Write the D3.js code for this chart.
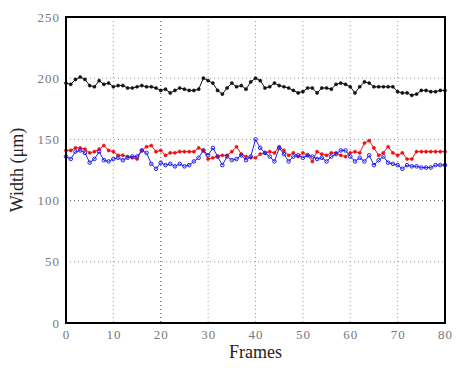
<!DOCTYPE html>
<html>
<head>
<meta charset="utf-8">
<script src="https://cdn.jsdelivr.net/npm/d3@7"></script>
<style>
  body { margin: 0; background: #fff; }
  svg { display: block; }
</style>
</head>
<body>
<svg id="chart" width="474" height="371"></svg>
<script>
// Frames 0..80, width in um
const frames = d3.range(0, 81);

const blackSeries = [196,195,199,201,199,194,193,198,195,196,193,194,194,192,192,193,194,193,193,192,
  190,191,188,190,192,191,190,190,191,200,198,196,190,187,192,196,193,194,191,197,
  200,198,192,193,196,194,193,192,190,188,189,192,192,188,192,192,191,195,196,195,
  193,188,193,197,196,193,193,193,193,193,189,188,188,186,187,190,190,189,189,190,190];

const redSeries = [141,141,143,143,142,139,140,142,145,141,140,137,137,136,135,134,141,144,145,140,
  141,137,139,139,140,140,140,140,143,141,134,135,136,137,137,140,144,138,136,135,
  135,138,139,140,139,144,141,137,139,136,139,137,132,140,138,137,139,139,137,136,
  139,140,139,147,149,143,137,139,144,139,137,139,134,134,140,140,140,140,140,140,140];

const blueSeries = [136,134,140,141,139,131,134,140,133,132,134,135,133,135,136,136,141,139,130,126,
  131,129,130,128,130,128,129,132,135,141,137,143,136,129,136,133,134,137,133,136,
  150,143,139,136,132,143,138,132,136,137,135,137,136,134,135,132,136,138,141,141,
  136,132,135,132,137,129,133,136,131,130,129,126,129,128,128,127,127,127,129,129,129];

const xTicks = [0,10,20,30,40,50,60,70,80];
const yTicks = [0,50,100,150,200,250];

const serif = "Liberation Serif, Times New Roman, serif";

const margin = {top: 17, right: 29, bottom: 48, left: 66};
const svg = d3.select("#chart");
const W = +svg.attr("width"), H = +svg.attr("height");
const w = W - margin.left - margin.right;
const h = H - margin.top - margin.bottom;

const x = d3.scaleLinear().domain([0, 80]).range([0, w]);
const y = d3.scaleLinear().domain([0, 250]).range([h, 0]);

const g = svg.append("g").attr("transform", `translate(${margin.left},${margin.top})`);

// dotted grid
g.append("g").selectAll("line")
  .data(xTicks.slice(1, -1))
  .enter().append("line")
  .attr("x1", d => x(d)).attr("x2", d => x(d))
  .attr("y1", 0).attr("y2", h)
  .attr("stroke", d => d === 20 ? "#444" : "#999")
  .attr("stroke-width", 1)
  .attr("stroke-dasharray", "1,3");

g.append("g").selectAll("line")
  .data(yTicks.slice(1, -1))
  .enter().append("line")
  .attr("x1", 0).attr("x2", w)
  .attr("y1", d => y(d)).attr("y2", d => y(d))
  .attr("stroke", d => d === 100 ? "#555" : "#999")
  .attr("stroke-width", 1)
  .attr("stroke-dasharray", "1,3");

// axes (labels only, frame drawn separately)
const xAxis = g.append("g")
  .attr("transform", `translate(0,${h})`)
  .call(d3.axisBottom(x).tickValues(xTicks).tickSize(0).tickPadding(7));
xAxis.select(".domain").remove();
xAxis.attr("font-family", serif).attr("font-size", 13);
xAxis.selectAll("text").attr("fill", "#777").attr("letter-spacing", 1);

const yAxis = g.append("g")
  .call(d3.axisLeft(y).tickValues(yTicks).tickSize(0).tickPadding(6));
yAxis.select(".domain").remove();
yAxis.attr("font-family", serif).attr("font-size", 13);
yAxis.selectAll("text").attr("fill", "#777").attr("letter-spacing", 1);

// series
const series = [
  {vals: blackSeries, color: "#111", marker: "dot"},
  {vals: redSeries, color: "#f01010", marker: "dot"},
  {vals: blueSeries, color: "#2020f0", marker: "ring"}
];

const line = d3.line()
  .x((d, i) => x(frames[i]))
  .y(d => y(d));

series.forEach(s => {
  g.append("path")
    .datum(s.vals)
    .attr("fill", "none")
    .attr("stroke", s.color)
    .attr("stroke-width", 1)
    .attr("d", line);

  g.append("g").selectAll("circle")
    .data(s.vals)
    .enter().append("circle")
    .attr("cx", (d, i) => x(frames[i]))
    .attr("cy", d => y(d))
    .attr("r", s.marker === "ring" ? 1.8 : 1.6)
    .attr("fill", s.marker === "ring" ? "none" : s.color)
    .attr("stroke", s.color)
    .attr("stroke-width", s.marker === "ring" ? 1 : 0.5);
});

// frame
g.append("rect")
  .attr("x", 0).attr("y", 0)
  .attr("width", w).attr("height", h)
  .attr("fill", "none")
  .attr("stroke", "#000")
  .attr("stroke-width", 2);

// axis titles
svg.append("text")
  .attr("x", margin.left + w / 2)
  .attr("y", H - 13)
  .attr("text-anchor", "middle")
  .attr("font-family", serif)
  .attr("font-size", 18)
  .attr("fill", "#222")
  .text("Frames");

svg.append("text")
  .attr("transform", `translate(23,${margin.top + h / 2}) rotate(-90)`)
  .attr("text-anchor", "middle")
  .attr("font-family", serif)
  .attr("font-size", 18)
  .attr("fill", "#222")
  .text("Width (\u03bcm)");
</script>
</body>
</html>
